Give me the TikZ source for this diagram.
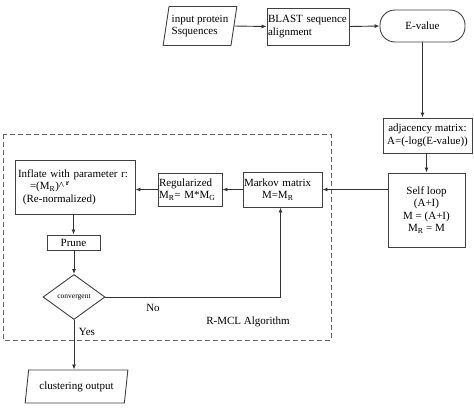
\documentclass[tikz,border=0pt]{standalone}
\usepackage{fontspec}
\setmainfont{Liberation Serif}
\usepackage{tikz}
\usetikzlibrary{shapes.geometric, arrows.meta, calc}
\tikzset{
  box/.style={draw=black!75, line width=0.9pt, rectangle, inner sep=1pt, font=\fontsize{11}{12.5}\selectfont},
  iobox/.style={draw=black!75, line width=0.9pt, trapezium, trapezium left angle=77, trapezium right angle=103,
    trapezium stretches=true, inner sep=1pt, font=\fontsize{11}{12.5}\selectfont},
  arr/.style={draw=black!80, line width=0.9pt, -{Latex[length=5pt,width=4pt]}},
  lbl/.style={font=\fontsize{11}{12.5}\selectfont}
}
\begin{document}
\begin{tikzpicture}[x=1pt, y=-1pt]
\useasboundingbox (0,0) rectangle (474,408);
\draw[dashed, draw=black!60, line width=1pt, dash pattern=on 5pt off 3pt] (3,134) rectangle (331,340);
\node[iobox, minimum width=74pt, minimum height=39pt, align=left] (inp) at (200,26) {input protein\\Ssquences};
\node[box, minimum width=82pt, minimum height=37pt, align=left, text width=80pt] (blast) at (308,26.5) {BLAST sequence\\alignment};
\node[box, rounded corners=15pt, minimum width=85pt, minimum height=32pt] (ev) at (422.5,26) {E-value};
\node[box, minimum width=89pt, minimum height=35pt, align=center] (adj) at (427.5,135.5) {adjacency matrix:\\A=(-log(E-value))};
\node[box, minimum width=77pt, minimum height=74pt, align=center] (self) at (426.5,210) {Self loop\\(A+I)\\M = (A+I)\\M\textsubscript{R} = M};
\node[box, minimum width=79pt, minimum height=35pt, align=left, text width=77pt] (markov) at (282.5,189.5) {Markov matrix\\\hspace*{18pt}M=M\textsubscript{R}};
\node[box, minimum width=64pt, minimum height=33pt, align=left, text width=62pt] (reg) at (190,189.5) {Regularized\\M\textsubscript{R}= M*M\textsubscript{G}};
\node[box, minimum width=120pt, minimum height=54pt, align=left, text width=114pt] (infl) at (75,187)
  {Inflate with parameter r:\\\hspace*{12pt}=(M\textsubscript{R})\^{}\,\textsuperscript{\bfseries r}\\\hspace*{5pt}(Re-normalized)};
\node[box, minimum width=53pt, minimum height=15pt] (prune) at (73.5,242.5) {Prune};
\node[box, diamond, aspect=1.4, minimum width=62pt, minimum height=45pt, inner sep=0pt, font=\fontsize{7.5}{8}\selectfont] (conv) at (74,297) {convergent};
\node[iobox, minimum width=103pt, minimum height=33pt] (out) at (76.5,386.5) {clustering output};
\node[lbl] (no) at (153,308) {No};
\node[lbl] (yes) at (87,332) {Yes};
\node[lbl] (rmcl) at (248,322) {R-MCL Algorithm};
\draw[arr] (inp.east) -- (blast.west);
\draw[arr] (blast.east) -- (ev.west);
\draw[arr] (ev.south) -- (ev.south |- adj.north);
\draw[arr] (adj.south -| self.north) -- (self.north);
\draw[arr] (markov.east -| self.west) -- (markov.east);
\draw[arr] (markov.west) -- (reg.east);
\draw[arr] (reg.west) -- (reg.west -| infl.east);
\draw[arr] (infl.south -| prune.north) -- (prune.north);
\draw[arr] (prune.south -| conv.north) -- (conv.north);
\draw[arr] (conv.east) -| ($(markov.south)+(-2,0)$);
\draw[arr] (conv.south) -- (conv.south |- out.north);
\end{tikzpicture}
\end{document}
